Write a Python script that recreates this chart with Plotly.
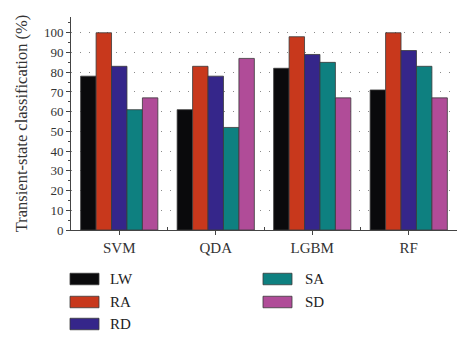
import plotly.graph_objects as go

categories = ["SVM", "QDA", "LGBM", "RF"]
series_names = ["LW", "RA", "RD", "SA", "SD"]
LW = [78, 61, 82, 71]
RA = [100, 83, 98, 100]
RD = [83, 78, 89, 91]
SA = [61, 52, 85, 83]
SD = [67, 87, 67, 67]
series_values = [LW, RA, RD, SA, SD]
colors = ["#0a0a0c", "#c8381c", "#35268a", "#0e8080", "#b04c98"]
y_ticks = list(range(0, 101, 10))

FONT = "Liberation Serif"
x_idx = list(range(len(categories)))

fig = go.Figure()
for name, vals, col in zip(series_names, series_values, colors):
    fig.add_trace(go.Bar(
        x=x_idx, y=vals, name=name,
        marker=dict(color=col, line=dict(color="#3a3a3a", width=0.8)),
        showlegend=False,
    ))

# manual legend (two columns: LW/RA/RD and SA/SD)
plot_w = 386.0
plot_h = 213.0
row_px = [49, 72, 94]
col_sw = [(-1, 28), (192, 221)]
col_tx = [37, 232]
sw_h = 11.5
for i, (name, col) in enumerate(zip(series_names, colors)):
    c = 0 if i < 3 else 1
    r = i if i < 3 else i - 3
    yc = -row_px[r] / plot_h
    x0 = col_sw[c][0] / plot_w
    x1 = col_sw[c][1] / plot_w
    fig.add_shape(type="rect", xref="paper", yref="paper",
                  x0=x0, x1=x1, y0=yc - sw_h / 2 / plot_h, y1=yc + sw_h / 2 / plot_h,
                  fillcolor=col, line=dict(color="#3a3a3a", width=0.8))
    fig.add_annotation(xref="paper", yref="paper", x=col_tx[c] / plot_w, y=yc,
                       text=name, showarrow=False, xanchor="left", yanchor="middle",
                       font=dict(family=FONT, size=15, color="#222"))

fig.update_layout(
    width=474, height=348,
    margin=dict(l=71, r=17, t=17, b=118),
    barmode="group", bargap=0.2, bargroupgap=0,
    plot_bgcolor="white", paper_bgcolor="white",
    font=dict(family=FONT, color="#333"),
    showlegend=False,
    xaxis=dict(
        range=[-0.5, 3.5], tickmode="array", tickvals=x_idx, ticktext=categories,
        showline=True, linecolor="#444", linewidth=1,
        ticks="outside", ticklen=4, tickcolor="#444",
        tickfont=dict(family=FONT, size=15, color="#333"),
        showgrid=False, zeroline=False,
        minor=dict(tickvals=[0.5, 1.5, 2.5], ticks="inside", ticklen=3, tickcolor="#444"),
    ),
    yaxis=dict(
        range=[0, 108], tickmode="array", tickvals=y_ticks,
        showline=True, linecolor="#444", linewidth=1,
        ticks="outside", ticklen=4, tickcolor="#444",
        tickfont=dict(family=FONT, size=13, color="#333"),
        showgrid=True, gridcolor="#8a8a8a", griddash="1px,8px", gridwidth=1,
        zeroline=False,
        minor=dict(dtick=5, tick0=0, ticks="outside", ticklen=2, tickcolor="#444", showgrid=False),
        title=dict(text="Transient-state classification (%)",
                   font=dict(family=FONT, size=16.5, color="#333"), standoff=12),
    ),
)

fig.write_html("out.html")
